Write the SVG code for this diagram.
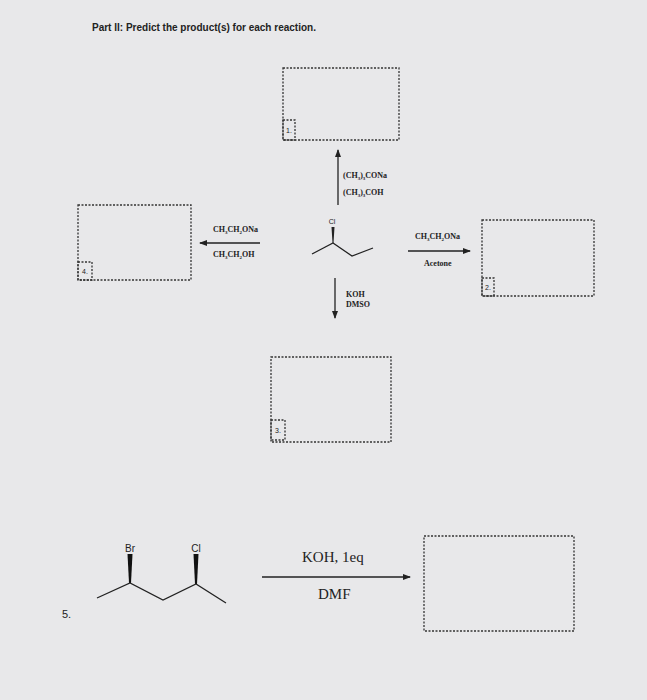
<svg xmlns="http://www.w3.org/2000/svg" width="647" height="700" viewBox="0 0 647 700">
<defs>
<style>
.box{fill:none;stroke:#333;stroke-width:1.3;stroke-dasharray:2 1.5}
.ln{stroke:#222;stroke-width:1.3;fill:none}
.r{font-family:"Liberation Serif",serif;font-size:8px;font-weight:bold;fill:#222}
.s{font-family:"Liberation Sans",sans-serif;fill:#222}
</style>
<marker id="ah" markerWidth="8" markerHeight="6" refX="7" refY="3" orient="auto" markerUnits="userSpaceOnUse"><path d="M0,0L8,3L0,6z" fill="#222"/></marker>
</defs>
<rect width="647" height="700" fill="#e8e8ea"/>
<text x="92" y="31" class="s" font-size="10" font-weight="bold">Part II: Predict the product(s) for each reaction.</text>
<g id="box1"><rect x="283" y="68" width="116" height="72" class="box"/><rect x="283" y="120" width="12" height="20" class="box"/><text x="286" y="133" class="s" font-size="7">1.</text></g>
<g id="box4"><rect x="78" y="205" width="113" height="75" class="box"/><rect x="78" y="262" width="14" height="18" class="box"/><text x="82" y="274" class="s" font-size="7">4.</text></g>
<g id="box2"><rect x="482" y="220" width="112" height="76" class="box"/><rect x="482" y="278" width="12" height="18" class="box"/><text x="485" y="290" class="s" font-size="7">2.</text></g>
<g id="box3"><rect x="271" y="357" width="120" height="85" class="box"/><rect x="271" y="420" width="14" height="20" class="box"/><text x="275" y="433" class="s" font-size="7">3.</text></g>
<g id="box5"><rect x="424" y="536" width="150" height="95" class="box"/></g>
<g id="mol1">
<text x="332" y="224" class="s" font-size="7" text-anchor="middle">Cl</text>
<path d="M331.5,227L334.5,227L333.5,243L332.5,243z" fill="#222"/>
<polyline points="312,254 333,243 352,256 373,248" class="ln"/>
</g>
<g id="mol2">
<text x="130" y="552" class="s" font-size="10" text-anchor="middle">Br</text>
<text x="196" y="552" class="s" font-size="10" text-anchor="middle">Cl</text>
<path d="M127.5,554L132.5,554L131,583L129,583z" fill="#111"/>
<path d="M193.5,554L198.5,554L197,584L195,584z" fill="#111"/>
<polyline points="97,598 130,583 163,600 196,584 226,603" class="ln"/>
</g>
<g id="connectors">
<line x1="338" y1="205" x2="338" y2="150" class="ln" marker-end="url(#ah)"/>
<line x1="260" y1="243" x2="200" y2="243" class="ln" marker-end="url(#ah)"/>
<line x1="408" y1="251" x2="470" y2="251" class="ln" marker-end="url(#ah)"/>
<line x1="335" y1="278" x2="335" y2="318" class="ln" marker-end="url(#ah)"/>
<line x1="262" y1="577" x2="410" y2="577" class="ln" marker-end="url(#ah)"/>
</g>
<g id="labels">
<text x="343" y="178" class="r">(CH<tspan font-size="5" dy="2">3</tspan><tspan dy="-2">)</tspan><tspan font-size="5" dy="2">3</tspan><tspan dy="-2">CONa</tspan></text>
<text x="343" y="195" class="r">(CH<tspan font-size="5" dy="2">3</tspan><tspan dy="-2">)</tspan><tspan font-size="5" dy="2">3</tspan><tspan dy="-2">COH</tspan></text>
<text x="213" y="232" class="r">CH<tspan font-size="5" dy="2">3</tspan><tspan dy="-2">CH</tspan><tspan font-size="5" dy="2">2</tspan><tspan dy="-2">ONa</tspan></text>
<text x="213" y="257" class="r">CH<tspan font-size="5" dy="2">3</tspan><tspan dy="-2">CH</tspan><tspan font-size="5" dy="2">2</tspan><tspan dy="-2">OH</tspan></text>
<text x="415" y="239" class="r">CH<tspan font-size="5" dy="2">3</tspan><tspan dy="-2">CH</tspan><tspan font-size="5" dy="2">2</tspan><tspan dy="-2">ONa</tspan></text>
<text x="424" y="266" class="r">Acetone</text>
<text x="346" y="297" class="r">KOH</text>
<text x="346" y="307" class="r">DMSO</text>
<text x="302" y="562" font-family="Liberation Serif,serif" font-size="15" fill="#222">KOH, 1eq</text>
<text x="318" y="599" font-family="Liberation Serif,serif" font-size="15" fill="#222">DMF</text>
<text x="62" y="618" class="s" font-size="11">5.</text>
</g>
</svg>
